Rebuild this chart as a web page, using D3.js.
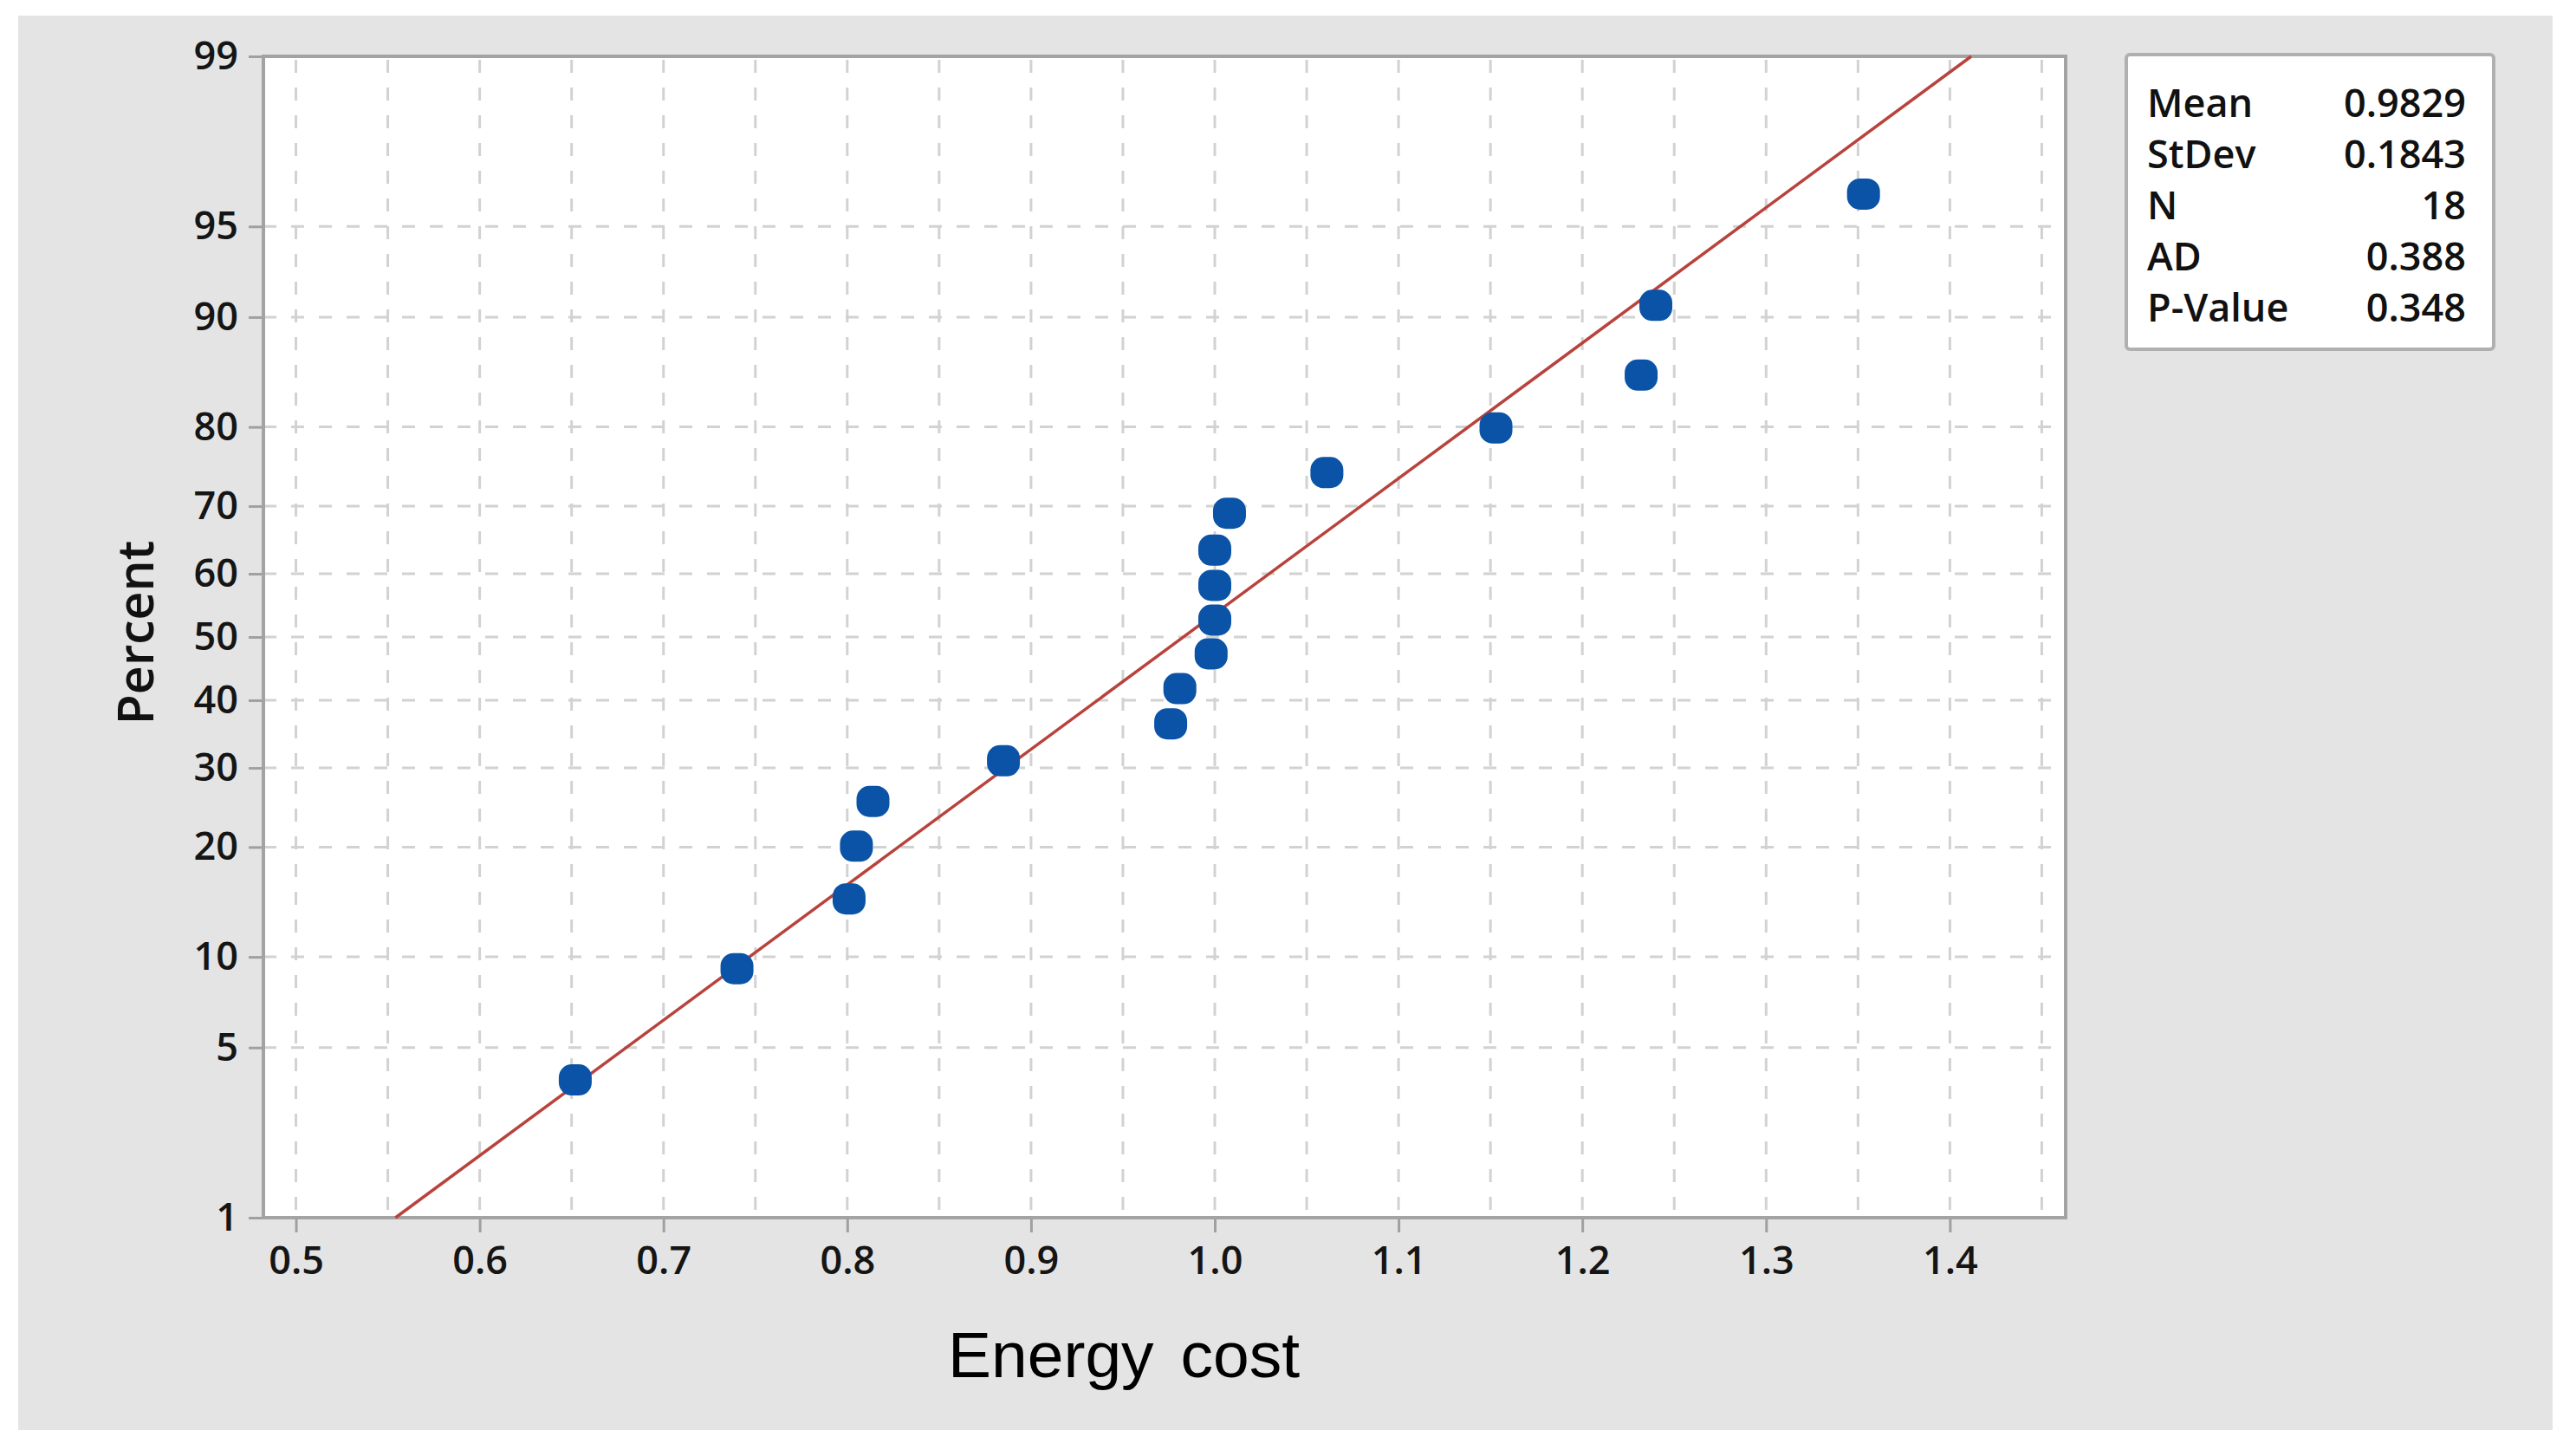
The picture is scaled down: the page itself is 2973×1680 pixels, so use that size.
<!DOCTYPE html>
<html>
<head>
<meta charset="utf-8">
<script src="https://cdn.jsdelivr.net/npm/d3@7"></script>
<style>
    html, body { margin: 0; padding: 0; background: #ffffff; }
    svg { display: block; }
    .tick text { fill: #151515; }
</style>
</head>
<body>
<svg id="chart" width="2973" height="1680"></svg>
<script>
// values
var energyCost = [0.652, 0.740, 0.801, 0.805, 0.814, 0.885, 0.976, 0.981, 0.998,
                  1.000, 1.000, 1.000, 1.008, 1.061, 1.153, 1.232, 1.240, 1.353];
var percentRank = [3.8, 9.2, 14.7, 20.1, 25.5, 31.0, 36.4, 41.8, 47.3,
                   52.7, 58.2, 63.6, 69.0, 74.5, 79.9, 85.3, 90.8, 96.2];
var percentTicks = [1, 5, 10, 20, 30, 40, 50, 60, 70, 80, 90, 95, 99];
var costTicks = [0.5, 0.6, 0.7, 0.8, 0.9, 1.0, 1.1, 1.2, 1.3, 1.4];
var costGrid = [0.5, 0.55, 0.6, 0.65, 0.7, 0.75, 0.8, 0.85, 0.9, 0.95,
                1.0, 1.05, 1.1, 1.15, 1.2, 1.25, 1.3, 1.35, 1.4, 1.45];
var statLabels = ['Mean', 'StDev', 'N', 'AD', 'P-Value'];
var statValues = ['0.9829', '0.1843', '18', '0.388', '0.348'];
var fitMean = 0.9829,
    fitStDev = 0.1843;

/**
 * inverse of the standard normal cdf (Acklam), used for the probability axis
 * @param p - probability in (0, 1)
 */
function probit(p) {
    var a = [-3.969683028665376e+01, 2.209460984245205e+02, -2.759285104469687e+02,
             1.383577518672690e+02, -3.066479806614716e+01, 2.506628277459239e+00],
        b = [-5.447609879822406e+01, 1.615858368580409e+02, -1.556989798598866e+02,
             6.680131188771972e+01, -1.328068155288572e+01],
        c = [-7.784894002430293e-03, -3.223964580411365e-01, -2.400758277161838e+00,
             -2.549671014303232e+00, 4.374664141464968e+00, 2.938163982698783e+00],
        d = [7.784695709041462e-03, 3.224671290700398e-01, 2.445134137142996e+00,
             3.754408661907416e+00],
        pLow = 0.02425, q, r;
    if (p < pLow) {
        q = Math.sqrt(-2 * Math.log(p));
        return (((((c[0] * q + c[1]) * q + c[2]) * q + c[3]) * q + c[4]) * q + c[5]) /
               ((((d[0] * q + d[1]) * q + d[2]) * q + d[3]) * q + 1);
    }
    if (p > 1 - pLow) {
        q = Math.sqrt(-2 * Math.log(1 - p));
        return -(((((c[0] * q + c[1]) * q + c[2]) * q + c[3]) * q + c[4]) * q + c[5]) /
                ((((d[0] * q + d[1]) * q + d[2]) * q + d[3]) * q + 1);
    }
    q = p - 0.5;
    r = q * q;
    return (((((a[0] * r + a[1]) * r + a[2]) * r + a[3]) * r + a[4]) * r + a[5]) * q /
           (((((b[0] * r + b[1]) * r + b[2]) * r + b[3]) * r + b[4]) * r + 1);
}

var svg = d3.select('#chart');
var tickFont = '"Open Sans", "Noto Sans", sans-serif';

var plot = { left: 304, right: 2384, top: 65, bottom: 1405 };

var x = d3.scaleLinear()
    .domain([0.4823, 1.463])
    .range([plot.left, plot.right]);

// percent axis is linear in normal quantiles
var z = d3.scaleLinear()
    .domain([probit(0.01), probit(0.99)])
    .range([plot.bottom, plot.top]);
function y(pct) { return z(probit(pct / 100)); }

// grey panel behind everything
svg.append('rect')
    .attr('x', 21).attr('y', 18)
    .attr('width', 2925).attr('height', 1632)
    .attr('fill', '#e4e4e4');

svg.append('rect')
    .attr('x', plot.left).attr('y', plot.top)
    .attr('width', plot.right - plot.left).attr('height', plot.bottom - plot.top)
    .attr('fill', '#ffffff');

// dashed grid
var grid = svg.append('g')
    .attr('stroke', '#d2d2d2')
    .attr('stroke-width', 3)
    .attr('stroke-dasharray', '15,17');

grid.selectAll('line.v')
    .data(costGrid)
    .enter().append('line')
    .attr('class', 'v')
    .attr('x1', function (d) { return x(d); })
    .attr('x2', function (d) { return x(d); })
    .attr('y1', plot.top + 4)
    .attr('y2', plot.bottom);

grid.selectAll('line.h')
    .data(percentTicks.slice(1, -1))
    .enter().append('line')
    .attr('class', 'h')
    .attr('x1', plot.left)
    .attr('x2', plot.right)
    .attr('y1', function (d) { return y(d); })
    .attr('y2', function (d) { return y(d); });

// axes
var yAxis = svg.append('g')
    .attr('transform', 'translate(' + plot.left + ',0)')
    .call(d3.axisLeft(z)
        .tickValues(percentTicks.map(function (p) { return probit(p / 100); }))
        .tickFormat(function (d, i) { return percentTicks[i]; })
        .tickSize(17)
        .tickPadding(12));

var xAxis = svg.append('g')
    .attr('transform', 'translate(0,' + plot.bottom + ')')
    .call(d3.axisBottom(x)
        .tickValues(costTicks)
        .tickFormat(d3.format('.1f'))
        .tickSize(17)
        .tickPadding(16));

[yAxis, xAxis].forEach(function (ax) {
    ax.select('.domain').remove();
    ax.selectAll('.tick line').attr('stroke', '#a0a0a0').attr('stroke-width', 3);
    ax.selectAll('.tick text')
        .attr('font-family', tickFont)
        .attr('font-weight', 600)
        .attr('font-size', 45);
});

// frame round the plot
svg.append('rect')
    .attr('x', plot.left).attr('y', plot.top)
    .attr('width', plot.right - plot.left).attr('height', plot.bottom - plot.top)
    .attr('fill', 'none')
    .attr('stroke', '#a3a3a3')
    .attr('stroke-width', 4);

// fitted normal line, 1% to 99%
var fitPts = [0.01, 0.99].map(function (p) {
    return [x(fitMean + fitStDev * probit(p)), z(probit(p))];
});
svg.append('path')
    .attr('d', d3.line()(fitPts))
    .attr('fill', 'none')
    .attr('stroke', '#b8433d')
    .attr('stroke-width', 3.5);

// data points
svg.append('g').selectAll('rect')
    .data(energyCost)
    .enter().append('rect')
    .attr('x', function (d) { return x(d) - 19; })
    .attr('y', function (d, i) { return y(percentRank[i]) - 18; })
    .attr('width', 38)
    .attr('height', 36)
    .attr('rx', 15)
    .attr('fill', '#0b53a6');

// axis titles
svg.append('text')
    .attr('transform', 'translate(177,730) rotate(-90)')
    .attr('text-anchor', 'middle')
    .attr('font-family', tickFont)
    .attr('font-weight', 600)
    .attr('font-size', 57)
    .attr('fill', '#111')
    .text('Percent');

svg.append('text')
    .attr('x', 1297).attr('y', 1589)
    .attr('text-anchor', 'middle')
    .attr('font-family', '"Liberation Sans", Arial, sans-serif')
    .attr('font-size', 75)
    .attr('word-spacing', 10)
    .attr('fill', '#000')
    .text('Energy cost');

// statistics box
var box = svg.append('g');
box.append('rect')
    .attr('x', 2454).attr('y', 63)
    .attr('width', 424).attr('height', 340)
    .attr('rx', 4)
    .attr('fill', '#ffffff')
    .attr('stroke', '#b0b0b0')
    .attr('stroke-width', 4);

box.selectAll('text.lbl')
    .data(statLabels)
    .enter().append('text')
    .attr('class', 'lbl')
    .attr('x', 2478)
    .attr('y', function (d, i) { return 135 + i * 59; })
    .attr('font-family', tickFont)
    .attr('font-weight', 600)
    .attr('font-size', 45)
    .attr('fill', '#111')
    .text(function (d) { return d; });

box.selectAll('text.val')
    .data(statValues)
    .enter().append('text')
    .attr('class', 'val')
    .attr('x', 2846)
    .attr('y', function (d, i) { return 135 + i * 59; })
    .attr('text-anchor', 'end')
    .attr('font-family', tickFont)
    .attr('font-weight', 600)
    .attr('font-size', 45)
    .attr('fill', '#111')
    .text(function (d) { return d; });
</script>
</body>
</html>
